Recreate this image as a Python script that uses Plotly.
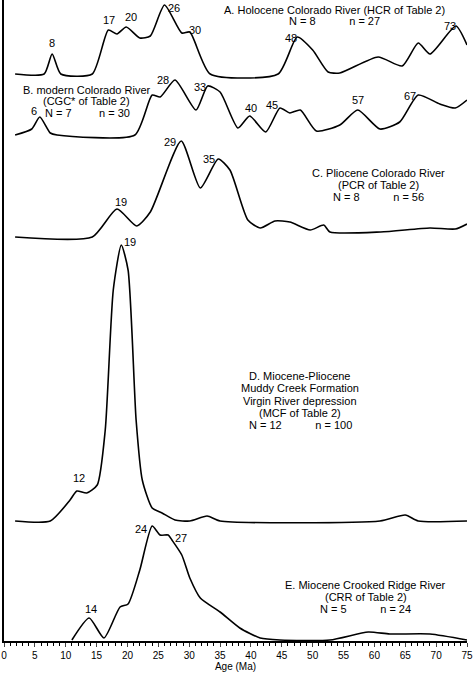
import plotly.graph_objects as go

# Age (Ma) and relative probability heights for each stacked curve
a_age = [1.8,6.5,7.8,9.2,14.3,16.9,18.3,19.8,22.0,23.7,26.0,28.8,30.1,33.4,44.4,47.5,50.0,52.5,54.4,60.6,64.5,67.1,69.0,73.2,75]
a_val = [567,567,587,567,567,611,607,614,603,605,636,608,609,567,567,604,591,569,568,584,575,598,587,615,596]
b_age = [1.8,4.5,5.8,7.5,8.6,21.2,24.0,25.3,27.7,31.1,33.0,35.0,37.9,39.8,42.4,44.7,46.3,48.0,50.6,54.4,57.3,60.9,64.1,67.1,70.6,73.1,75]
b_val = [506,512,524,508,506,506,546,544,561,531,555,549,513,525,509,533,528,531,510,516,531,512,519,546,537,533,541]
c_age = [1.8,14.3,18.3,21.5,23.7,28.7,31.8,34.7,36.6,39.5,41.5,43.9,46.3,49.6,51.8,52.8,61.0,69.0,73.1,75]
c_val = [404,404,432,415,429,500,453,482,471,421,413,420,419,411,416,409,409,413,412,417]
d_age = [1.8,7.5,10.7,11.8,13.4,15.1,16.4,17.7,19.0,20.1,21.4,22.4,24.0,25.6,27.7,30.1,32.9,35.0,60.9,65.0,67.1,75]
d_val = [120,120,141,150,148,156,211,351,396,371,221,161,133,128,121,120,125,120,120,126,120,120]
e_age = [11.0,13.8,16.2,18.8,20.1,22.0,24.0,25.3,26.6,27.2,28.8,30.1,31.8,35.0,38.2,41.5,44.7,52.8,59.0,62.5,69.0,75]
e_val = [1,23,3,34,37,71,115,106,106,101,86,63,43,29,13,3,1,1,9,7,7,1]

# peak labels: (age, height, text)
peak_labels = [
    (7.8,598,"8"),(17.0,621,"17"),(20.5,624,"20"),(27.5,633,"26"),(31.0,611,"30"),(46.5,603,"48"),(72.3,615,"73"),
    (4.9,530,"6"),(25.8,561,"28"),(31.8,554,"33"),(40.0,533,"40"),(43.4,536,"45"),(57.3,541,"57"),(65.8,545,"67"),
    (19.0,439,"19"),(26.9,499,"29"),(33.2,482,"35"),
    (20.4,399,"19"),(12.2,163,"12"),
    (22.2,112,"24"),(28.7,103,"27"),(14.1,32,"14"),
]
# text blocks: (age, height, text)
titles = [
    (53.5,631,"A. Holocene Colorado River (HCR of Table 2)"),
    (53.5,620,"N = 8&nbsp;&nbsp;&nbsp;&nbsp;&nbsp;&nbsp;&nbsp;&nbsp;&nbsp;&nbsp;&nbsp;n = 27"),
    (13.4,551,"B. modern Colorado River"),
    (13.4,540,"(CGC* of Table 2)"),
    (13.6,528,"N = 7&nbsp;&nbsp;&nbsp;&nbsp;&nbsp;&nbsp;&nbsp;&nbsp;&nbsp;n = 30"),
    (60.6,468,"C. Pliocene Colorado River"),
    (60.6,456,"(PCR of Table 2)"),
    (60.6,444,"N = 8&nbsp;&nbsp;&nbsp;&nbsp;&nbsp;&nbsp;&nbsp;&nbsp;&nbsp;&nbsp;&nbsp;n = 56"),
    (48.0,265,"D. Miocene-Pliocene"),
    (48.0,253,"Muddy Creek Formation"),
    (48.0,240,"Virgin River depression"),
    (48.0,228,"(MCF of Table 2)"),
    (48.0,216,"N = 12&nbsp;&nbsp;&nbsp;&nbsp;&nbsp;&nbsp;&nbsp;&nbsp;&nbsp;&nbsp;&nbsp;n = 100"),
    (58.6,56,"E. Miocene Crooked Ridge River"),
    (58.6,44,"(CRR of Table 2)"),
    (58.6,32,"N = 5&nbsp;&nbsp;&nbsp;&nbsp;&nbsp;&nbsp;&nbsp;&nbsp;&nbsp;&nbsp;&nbsp;n = 24"),
]
x_ticks = list(range(0, 80, 5))

fig = go.Figure()
for xs, ys in [(a_age,a_val),(b_age,b_val),(c_age,c_val),(d_age,d_val),(e_age,e_val)]:
    fig.add_trace(go.Scatter(x=xs, y=ys, mode="lines",
                             line=dict(color="black", width=1.6, shape="spline", smoothing=0.6),
                             showlegend=False, hoverinfo="skip"))
font = dict(family="Liberation Sans, Arial", size=11, color="black")
for x, y, t in peak_labels + titles:
    fig.add_annotation(x=x, y=y, text=t, showarrow=False, font=font)

fig.update_layout(
    width=474, height=674, plot_bgcolor="white", paper_bgcolor="white",
    margin=dict(l=4, r=7, t=0, b=33, autoexpand=False), font=font,
    xaxis=dict(range=[0,75], tickvals=x_ticks, ticks="outside", ticklen=4, tickwidth=1,
               showgrid=False, zeroline=False, showline=True, linecolor="black", linewidth=1.5,
               minor=dict(dtick=1, ticks="outside", ticklen=3, tickcolor="black"),
               title=dict(text="Age (Ma)", standoff=0, font=dict(size=10)),
               tickfont=dict(size=10), automargin=False),
    yaxis=dict(range=[0,641], showticklabels=False, showgrid=False, zeroline=False,
               showline=True, linecolor="black", linewidth=1.5, ticks=""),
)
fig.write_html("out.html", config={"displayModeBar": False},
               post_script="document.body.style.margin='0';document.body.style.overflow='hidden';")
